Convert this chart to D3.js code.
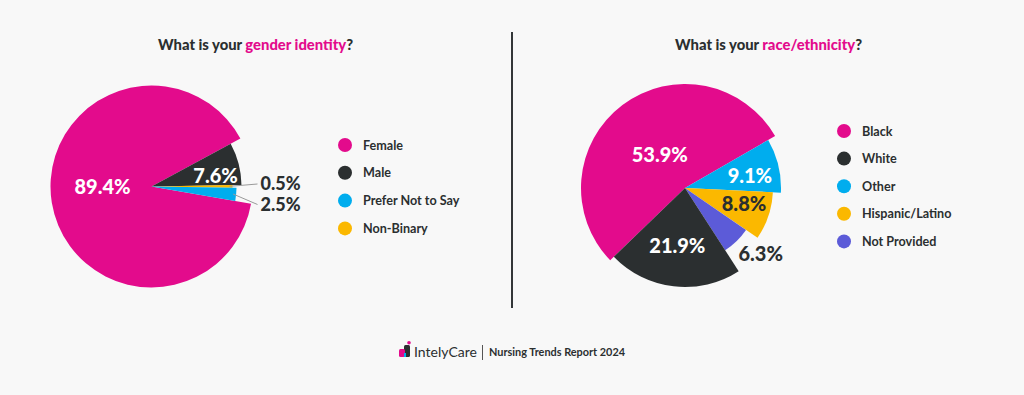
<!DOCTYPE html>
<html>
<head>
<meta charset="utf-8">
<script src="https://cdn.jsdelivr.net/npm/d3@7"></script>
<style>
  html, body { margin: 0; padding: 0; background: #f8f8f8; }
  svg { display: block; font-family: "Lato", "Open Sans", sans-serif; }
</style>
</head>
<body>
<svg id="chart"></svg>
<script>
const width = 1024, height = 395;

// gender question
const genderCategories = ["Female", "Male", "Prefer Not to Say", "Non-Binary"];
const genderValues = [89.4, 7.6, 2.5, 0.5];
const genderPieOrder = ["Female", "Male", "Non-Binary", "Prefer Not to Say"];

// race question
const raceCategories = ["Black", "White", "Other", "Hispanic/Latino", "Not Provided"];
const raceValues = [53.9, 21.9, 9.1, 8.8, 6.3];
const racePieOrder = ["Black", "Other", "Hispanic/Latino", "Not Provided", "White"];

const pink = "#e30b8c", dark = "#2b2f30", blue = "#00adee", yellow = "#fbb800", purple = "#5c5bd8";

const svg = d3.select("#chart").attr("width", width).attr("height", height);

svg.append("rect").attr("width", width).attr("height", height).attr("fill", "#f8f8f8");

const deg = Math.PI / 180;

function drawPie(opts) {
    const data = opts.order.map(c => ({ cat: c, value: opts.values[opts.cats.indexOf(c)] }));
    const pie = d3.pie().sort(null).value(d => d.value)
        .startAngle(opts.start * deg).endAngle(opts.start * deg + 2 * Math.PI);
    const arcs = pie(data);
    const g = svg.append("g").attr("transform", `translate(${opts.cx},${opts.cy})`);

    g.selectAll("path")
        .data(arcs)
        .join("path")
        .attr("d", d => d3.arc().innerRadius(0).outerRadius(opts.radius[d.data.cat])(d))
        .attr("fill", d => opts.color(d.data.cat));

    arcs.forEach(d => {
        const lab = opts.labels[d.data.cat];
        const mid = (d.startAngle + d.endAngle) / 2 + (lab.shift || 0) * deg;
        const x = Math.sin(mid) * lab.r, y = -Math.cos(mid) * lab.r;
        const txt = d.data.value.toFixed(1) + "%";
        if (lab.leader) {
            g.append("polyline")
                .attr("points", [[x, y], [lab.leader[0], lab.leader[1]]].map(p => p.join(",")).join(" "))
                .attr("fill", "none").attr("stroke", "#9a9a9a").attr("stroke-width", 1);
            g.append("text")
                .attr("x", lab.leader[0] + 3).attr("y", lab.leader[1])
                .attr("dy", "0.36em")
                .attr("font-size", 18).attr("font-weight", 900)
                .attr("fill", dark).text(txt);
        } else {
            g.append("text")
                .attr("x", x).attr("y", y).attr("dy", "0.36em")
                .attr("text-anchor", "middle")
                .attr("font-size", 20).attr("font-weight", 900)
                .attr("fill", lab.fill).text(txt);
        }
    });
}

function drawLegend(cats, color, x, y0, step) {
    const g = svg.append("g");
    const items = g.selectAll("g").data(cats).join("g")
        .attr("transform", (d, i) => `translate(${x},${y0 + i * step})`);
    items.append("circle").attr("r", 7).attr("fill", d => color(d));
    items.append("text").attr("x", 18).attr("dy", "0.36em")
        .attr("font-size", 12.6).attr("font-weight", 700).attr("fill", dark).text(d => d);
}

function drawTitle(x, parts) {
    const t = svg.append("text").attr("x", x).attr("y", 50)
        .attr("font-size", 14.8).attr("font-weight", 900).attr("fill", dark);
    parts.forEach(p => t.append("tspan").attr("fill", p[1] ? pink : dark).text(p[0]));
}

// left: gender
const genderColor = d3.scaleOrdinal().domain(genderCategories).range([pink, dark, blue, yellow]);
drawTitle(158, [["What is your ", false], ["gender identity", true], ["?", false]]);
drawPie({
    cats: genderCategories, values: genderValues, order: genderPieOrder, color: genderColor,
    cx: 151.5, cy: 186.5, start: 99.8,
    radius: { "Female": 101, "Male": 90, "Prefer Not to Say": 85, "Non-Binary": 81 },
    labels: {
        "Female": { r: 49, fill: "#fff", shift: 9 },
        "Male": { r: 65, fill: "#fff", shift: 5 },
        "Non-Binary": { r: 78, leader: [106, -2.5] },
        "Prefer Not to Say": { r: 82, leader: [106, 18] }
    }
});
drawLegend(genderCategories, genderColor, 345, 145, 27.8);

// divider
svg.append("line").attr("x1", 512).attr("x2", 512).attr("y1", 32).attr("y2", 308)
    .attr("stroke", "#333638").attr("stroke-width", 2);

// right: race
const raceColor = d3.scaleOrdinal().domain(raceCategories).range([pink, dark, blue, yellow, purple]);
drawTitle(675, [["What is your ", false], ["race/ethnicity", true], ["?", false]]);
drawPie({
    cats: raceCategories, values: raceValues, order: racePieOrder, color: raceColor,
    cx: 685, cy: 188, start: 226,
    radius: { "Black": 104, "White": 99, "Other": 96, "Hispanic/Latino": 88, "Not Provided": 74 },
    labels: {
        "Black": { r: 42, fill: "#fff" },
        "White": { r: 58, fill: "#fff", shift: 1 },
        "Other": { r: 66, fill: "#fff", shift: 3 },
        "Hispanic/Latino": { r: 61, fill: dark, shift: -4 },
        "Not Provided": { r: 100, fill: dark, shift: -5 }
    }
});
drawLegend(raceCategories, raceColor, 844, 131, 27.6);

// footer
const logo = svg.append("g").attr("transform", "translate(399,341)");
logo.append("rect").attr("x", 5).attr("y", 4).attr("width", 6).attr("height", 12).attr("rx", 1.5).attr("fill", dark);
logo.append("rect").attr("x", 0).attr("y", 8).attr("width", 6).attr("height", 8).attr("rx", 1.5).attr("fill", pink);
logo.append("rect").attr("x", 5).attr("y", 12).attr("width", 2).attr("height", 4).attr("fill", blue);
logo.append("circle").attr("cx", 10).attr("cy", 1.8).attr("r", 1.8).attr("fill", pink);

svg.append("text").attr("x", 414).attr("y", 357).attr("font-size", 14).attr("font-weight", 400)
    .attr("fill", dark).text("IntelyCare");
svg.append("line").attr("x1", 482.5).attr("x2", 482.5).attr("y1", 345).attr("y2", 360)
    .attr("stroke", "#555").attr("stroke-width", 1);
svg.append("text").attr("x", 489).attr("y", 356).attr("font-size", 10.9).attr("font-weight", 700)
    .attr("fill", dark).text("Nursing Trends Report 2024");
</script>
</body>
</html>
